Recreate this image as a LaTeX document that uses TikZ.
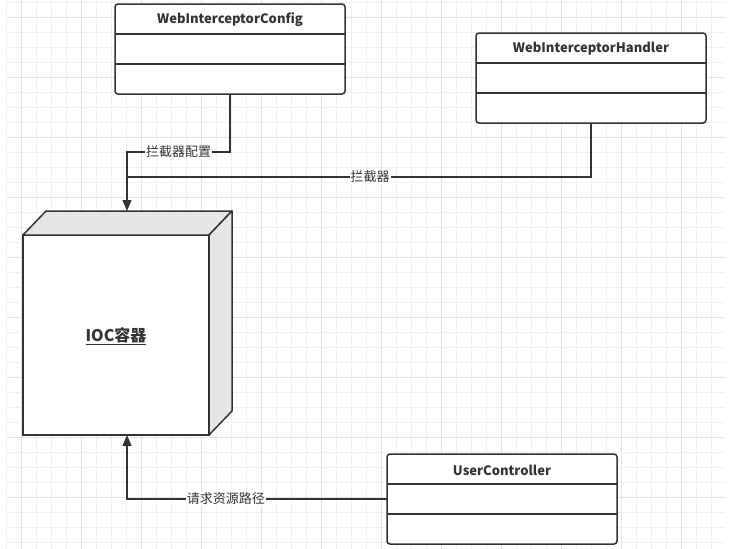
\documentclass[tikz,border=0pt]{standalone}
\usepackage{fontspec}
\setmainfont{Noto Sans CJK SC}
\usetikzlibrary{arrows.meta}
\definecolor{ln}{HTML}{333333}
\definecolor{gminor}{HTML}{F0F0F0}
\definecolor{gmajor}{HTML}{E2E2E2}
\definecolor{cubegray}{HTML}{E6E6E6}
\tikzset{
  classbox/.style={draw=ln, line width=1.5pt, rounded corners=3pt, fill=white,
    minimum width=230pt, minimum height=90pt, inner sep=0pt, outer sep=0pt, anchor=north west},
  divider/.style={draw=ln, line width=1.5pt},
  titletext/.style={font=\bfseries\fontsize{13}{15}\selectfont, text=ln},
  conn/.style={draw=ln, line width=1.5pt},
  tip/.style={-{Triangle[length=11pt,width=9pt]}},
  lbl/.style={fill=white, inner sep=1pt, text=ln, font=\fontsize{13}{15}\selectfont},
}
\begin{document}
\begin{tikzpicture}[x=1pt,y=-1pt]
\useasboundingbox (0,0) rectangle (740,549);
\fill[white] (0,0) rectangle (740,549);
% grid
\foreach \k in {0,...,47}{
  \pgfmathtruncatemacro{\m}{mod(\k,4)}
  \ifnum\m=1
    \draw[gmajor, line width=1pt] ({6.7+15*\k},0) -- ({6.7+15*\k},549);
  \else
    \draw[gminor, line width=1pt] ({6.7+15*\k},0) -- ({6.7+15*\k},549);
  \fi
}
\foreach \k in {0,...,36}{
  \pgfmathtruncatemacro{\m}{mod(\k,4)}
  \ifnum\m=1
    \draw[gmajor, line width=1pt] (6.7,{2.3+15*\k}) -- (725,{2.3+15*\k});
  \else
    \draw[gminor, line width=1pt] (6.7,{2.3+15*\k}) -- (725,{2.3+15*\k});
  \fi
}
% class boxes
\node[classbox] (cfg) at (115,4) {};
\node[titletext] (cfgT) at ([yshift=-16pt]cfg.north) {WebInterceptorConfig};
\draw[divider] ([yshift=-30pt]cfg.north west) -- ([yshift=-30pt]cfg.north east);
\draw[divider] ([yshift=-60pt]cfg.north west) -- ([yshift=-60pt]cfg.north east);

\node[classbox] (hdl) at (476,33) {};
\node[titletext] (hdlT) at ([yshift=-16pt]hdl.north) {WebInterceptorHandler};
\draw[divider] ([yshift=-30pt]hdl.north west) -- ([yshift=-30pt]hdl.north east);
\draw[divider] ([yshift=-60pt]hdl.north west) -- ([yshift=-60pt]hdl.north east);

\node[classbox] (uc) at (387,454) {};
\node[titletext] (ucT) at ([yshift=-16pt]uc.north) {UserController};
\draw[divider] ([yshift=-30pt]uc.north west) -- ([yshift=-30pt]uc.north east);
\draw[divider] ([yshift=-60pt]uc.north west) -- ([yshift=-60pt]uc.north east);

% IOC cube
\node[draw=ln, line width=1.5pt, fill=white, minimum width=186pt, minimum height=200pt,
  inner sep=0pt, outer sep=0pt, anchor=north west] (ioc) at (23,235) {};
\filldraw[draw=ln, line width=1.5pt, fill=cubegray, line join=round]
  (ioc.north west) -- ++(23,-24) -- ++(186,0) -- (ioc.north east) -- cycle;
\filldraw[draw=ln, line width=1.5pt, fill=cubegray, line join=round]
  (ioc.north east) -- ++(23,-24) -- ++(0,200) -- (ioc.south east) -- cycle;
\node[font=\bfseries\fontsize{16}{19}\selectfont, text=ln] (iocT) at ([yshift=-1pt]ioc.center) {\underline{IOC容器}};

% connectors
\coordinate (iocTop) at (127,211);
\coordinate (iocBot) at (127,435);
\coordinate (j1) at (127,152);
\coordinate (j2) at (127,177);
\draw[conn, tip] (cfg.south) |- node[lbl, pos=0.75] {拦截器配置} (j1) -- (iocTop);
\draw[conn] (hdl.south) |- node[lbl, pos=0.738] {拦截器} (j2);
\draw[conn, tip] (uc.west) -| node[lbl, pos=0.31] {请求资源路径} (iocBot);
\end{tikzpicture}
\end{document}
